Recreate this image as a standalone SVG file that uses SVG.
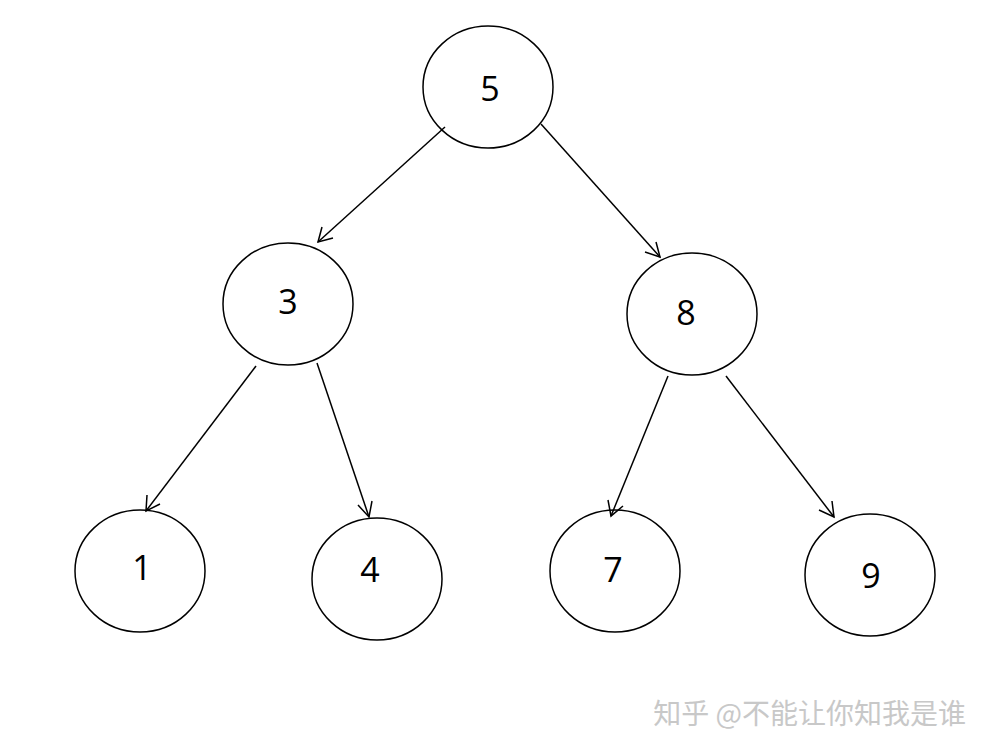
<svg xmlns="http://www.w3.org/2000/svg" width="990" height="755" viewBox="0 0 990 755">
<style>
ellipse{fill:#fff;stroke:#000;stroke-width:1.5}
text{font-family:"Open Sans","DejaVu Sans",sans-serif;font-size:34px;text-anchor:middle;fill:#000}
.c line{stroke:#000;stroke-width:1.5}
.c path{fill:none;stroke:#000;stroke-width:1.5}
.wm{font-family:"Noto Sans CJK SC",sans-serif;font-size:28px;fill:#c8c8c8;text-anchor:end}
</style>
<rect width="990" height="755" fill="#fff"/>
<g id="n5"><ellipse cx="488" cy="87" rx="65" ry="61"/><text x="490" y="101">5</text></g>
<g id="n3"><ellipse cx="288" cy="304" rx="65" ry="61"/><text x="288" y="314">3</text></g>
<g id="n8"><ellipse cx="692" cy="314" rx="65" ry="61"/><text x="686" y="325">8</text></g>
<g id="n1"><ellipse cx="140" cy="571" rx="65" ry="61"/><text x="142" y="580">1</text></g>
<g id="n4"><ellipse cx="377" cy="579" rx="65" ry="61"/><text x="370" y="582">4</text></g>
<g id="n7"><ellipse cx="615" cy="571" rx="65" ry="61"/><text x="613" y="582">7</text></g>
<g id="n9"><ellipse cx="870" cy="575" rx="65" ry="61"/><text x="871" y="588">9</text></g>
<g class="c">
<line x1="445" y1="127" x2="318" y2="242"/><path d="M322 227 L318 242 L333 238"/>
<line x1="541" y1="124" x2="660" y2="257"/><path d="M645 252 L660 257 L656 242"/>
<line x1="256" y1="366" x2="146" y2="511"/><path d="M147 495 L146 511 L160 504"/>
<line x1="317" y1="363" x2="369" y2="517"/><path d="M358 505 L369 517 L372 501"/>
<line x1="668" y1="376" x2="611" y2="516"/><path d="M608 500 L611 516 L623 506"/>
<line x1="726" y1="376" x2="834" y2="517"/><path d="M819 510 L834 517 L832 501"/>
</g>
<text class="wm" x="966" y="724">知乎 @不能让你知我是谁</text>
</svg>
